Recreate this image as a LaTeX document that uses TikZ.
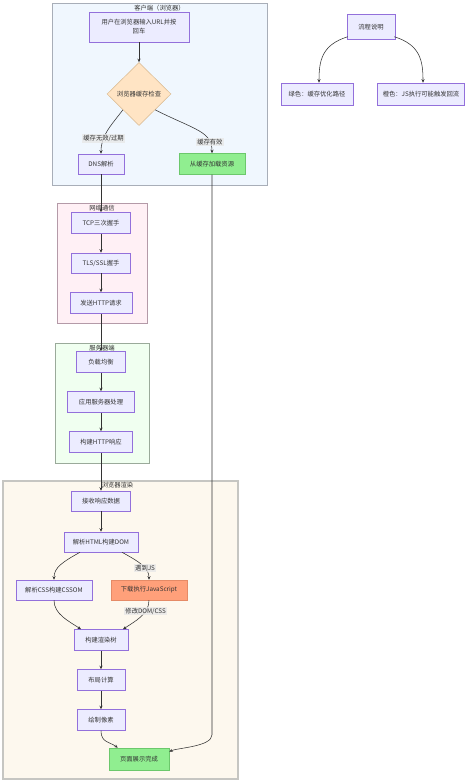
\documentclass[tikz,border=0pt]{standalone}
\usepackage{fontspec}
\setmainfont{Noto Sans CJK SC}
\usetikzlibrary{shapes.geometric,arrows.meta,calc}
\definecolor{nodefill}{HTML}{ECECFF}
\definecolor{nodeline}{HTML}{9370DB}
\definecolor{txt}{HTML}{333333}
\definecolor{edgecol}{HTML}{333333}
\definecolor{clientbg}{HTML}{F0F7FE}
\definecolor{clientln}{HTML}{A8AEB8}
\definecolor{netbg}{HTML}{FFF0F5}
\definecolor{netln}{HTML}{B49AA8}
\definecolor{serverbg}{HTML}{F0FFF0}
\definecolor{serverln}{HTML}{9AAA9A}
\definecolor{renderbg}{HTML}{FDF8EE}
\definecolor{renderln}{HTML}{C6C6C2}
\definecolor{diafill}{HTML}{FFE4C4}
\definecolor{dialn}{HTML}{D8B88E}
\definecolor{greenfill}{HTML}{90EE90}
\definecolor{greenln}{HTML}{6CC86C}
\definecolor{orangefill}{HTML}{FFA07A}
\definecolor{orangeln}{HTML}{E58A66}
\definecolor{lblbg}{HTML}{E8E8E8}
\tikzset{
  box/.style={draw=nodeline, fill=nodefill, line width=0.5pt, inner sep=0pt, minimum height=21pt, text=txt},
  greenbox/.style={box, draw=greenln, fill=greenfill},
  orangebox/.style={box, draw=orangeln, fill=orangefill},
  diabox/.style={diamond, draw=dialn, fill=diafill, line width=0.5pt, inner sep=0pt, minimum width=64pt, minimum height=63pt, text=txt},
  cluster/.style={line width=0.8pt, inner sep=0pt},
  clabel/.style={anchor=north, inner sep=0pt, text=txt},
  edge/.style={draw=edgecol, line width=0.55pt, -{Stealth[length=3.5pt,width=3pt]}},
  elabel/.style={fill=lblbg, fill opacity=0.8, text opacity=1, inner sep=1pt, text=txt}
}
\begin{document}
\begin{tikzpicture}[x=1pt,y=-1pt, font=\fontsize{6.3}{9}\selectfont]
\useasboundingbox (0,0) rectangle (474,783);
\fill[white] (0,0) rectangle (474,783);
% clusters
\node[cluster, draw=clientln, fill=clientbg, minimum width=215pt, minimum height=182pt] (client) at (159.5,94) {};
\node[clabel] (clientlbl) at ($(client.north)+(0,2)$) {客户端（浏览器）};
\node[cluster, draw=netln, fill=netbg, minimum width=90pt, minimum height=120pt] (net) at (102,263) {};
\node[clabel] (netlbl) at ($(net.north)+(0,2)$) {网络通信};
\node[cluster, draw=serverln, fill=serverbg, minimum width=94pt, minimum height=120pt] (server) at (102,403) {};
\node[clabel] (serverlbl) at ($(server.north)+(0,2)$) {服务器端};
\node[cluster, draw=renderln, fill=renderbg, line width=1.3pt, minimum width=235pt, minimum height=298pt] (render) at (120.5,630) {};
\node[clabel] (renderlbl) at ($(render.north)+(-3,2)$) {浏览器渲染};
% nodes
\node[box, minimum width=100pt, minimum height=30pt, align=center] (user) at (139,27) {用户在浏览器输入URL并按\\回车};
\node[diabox] (chk) at (139,94) {浏览器缓存检查};
\node[box, minimum width=46pt, minimum height=20pt] (dns) at (101,164) {DNS解析};
\node[greenbox, minimum width=66pt] (cache) at (212,164) {从缓存加载资源};
\node[box, minimum width=59pt] (tcp) at (101,223) {TCP三次握手};
\node[box, minimum width=59pt, minimum height=20pt] (tls) at (101,263) {TLS/SSL握手};
\node[box, minimum width=62pt] (send) at (101,303) {发送HTTP请求};
\node[box, minimum width=49pt] (lb) at (101,362) {负载均衡};
\node[box, minimum width=67pt] (app) at (101,402) {应用服务器处理};
\node[box, minimum width=63pt] (resp) at (101,442) {构建HTTP响应};
\node[box, minimum width=59pt, minimum height=20pt] (recv) at (101,501) {接收响应数据};
\node[box, minimum width=74pt, minimum height=20pt] (html) at (101,542) {解析HTML构建DOM};
\node[box, minimum width=76pt, minimum height=20pt] (cssom) at (54,590) {解析CSS构建CSSOM};
\node[orangebox, minimum width=76pt, minimum height=20pt] (js) at (149,590) {下载执行JavaScript};
\node[box, minimum width=54pt] (rtree) at (101,640) {构建渲染树};
\node[box, minimum width=48pt] (layout) at (101,680) {布局计算};
\node[box, minimum width=48pt] (paint) at (101,720) {绘制像素};
\node[greenbox, minimum width=60pt, minimum height=22pt] (done) at (139,759) {页面展示完成};
% legend
\node[box, minimum width=48pt, minimum height=25pt] (legend) at (371,27) {流程说明};
\node[box, minimum width=72pt, minimum height=22pt] (lgreen) at (317,94) {绿色：缓存优化路径};
\node[box, minimum width=87pt, minimum height=22pt] (lorange) at (421,94) {橙色：JS执行可能触发回流};
% edges
\draw[edge] (user) -- (chk);
\draw[edge] (chk.south west) .. controls +(-13,17) and +(0,-18) .. node[elabel,pos=0.68]{缓存无效/过期} (dns.north);
\draw[edge] (chk.south east) .. controls +(40,20) and +(0,-22) .. node[elabel,pos=0.8]{缓存有效} (cache.north);
\draw[edge] (dns) -- (tcp);
\draw[edge] (tcp) -- (tls);
\draw[edge] (tls) -- (send);
\draw[edge] (send) -- (lb);
\draw[edge] (lb) -- (app);
\draw[edge] (app) -- (resp);
\draw[edge] (resp) -- (recv);
\draw[edge] (recv) -- (html);
\draw[edge] ($(html.south)+(-21,0)$) .. controls +(-18,10) and +(0,-12) .. (cssom.north);
\draw[edge] ($(html.south)+(21,0)$) .. controls +(18,10) and +(0,-12) .. node[elabel,pos=0.62]{遇到JS} (js.north);
\draw[edge] (cssom.south) .. controls +(0,14) and +(-12,-8) .. ($(rtree.north)+(-20,0)$);
\draw[edge] (js.south) .. controls +(0,14) and +(12,-8) .. node[elabel,pos=0.3]{修改DOM/CSS} ($(rtree.north)+(22,0)$);
\draw[edge] (rtree) -- (layout);
\draw[edge] (layout) -- (paint);
\draw[edge] (paint.south) .. controls +(0,12) and +(-8,-6) .. ($(done.north west)+(9,0)$);
\draw[edge] (cache.south) -- ($(cache.south)+(0,560)$) .. controls +(0,12) and +(8,-4) .. ($(done.north east)+(0,4)$);
\draw[edge] ($(legend.south west)+(1,-3)$) .. controls +(-26,8) and +(0,-22) .. ($(lgreen.north)+(2,0)$);
\draw[edge] ($(legend.south east)+(-1,-3)$) .. controls +(26,8) and +(0,-22) .. ($(lorange.north)+(2,0)$);
\end{tikzpicture}
\end{document}
